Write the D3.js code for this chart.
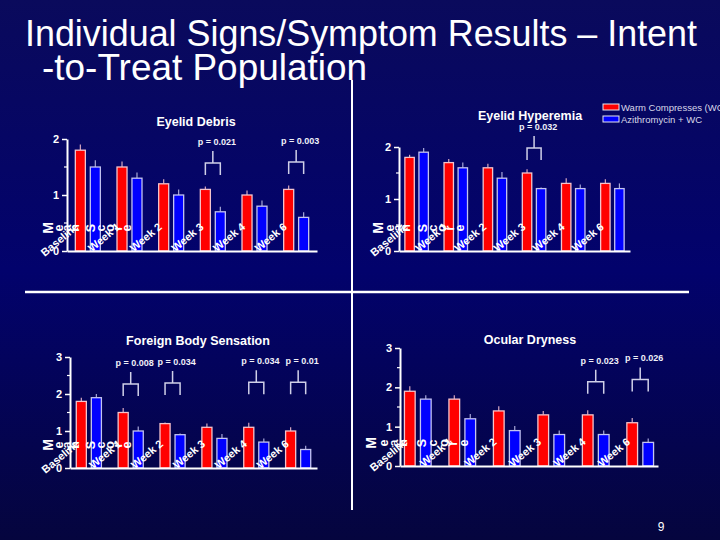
<!DOCTYPE html>
<html>
<head>
<meta charset="utf-8">
<script src="https://cdn.jsdelivr.net/npm/d3@7"></script>
<style>
  body { margin: 0; background: #06065a; }
  svg { display: block; font-family: "Liberation Sans", Arial, sans-serif; }
</style>
</head>
<body>
<div id="chart"></div>
<script>
// Dados
const timepoints = ['Baseline', 'Week 1', 'Week 2', 'Week 3', 'Week 4', 'Week 6'];
const seriesNames = ['Warm Compresses (WC)', 'Azithromycin + WC'];
const yLabel = 'Mean Score';

const debrisWC = [1.8, 1.5, 1.2, 1.1, 1.0, 1.1];
const debrisAzi = [1.5, 1.3, 1.0, 0.7, 0.8, 0.6];
const debrisErrWC = [0.1, 0.1, 0.08, 0.05, 0.08, 0.07];
const debrisErrAzi = [0.12, 0.1, 0.1, 0.09, 0.1, 0.09];
const debrisP = [{week: 'Week 3', p: 'p = 0.021', level: 1.57}, {week: 'Week 6', p: 'p = 0.003', level: 1.59}];

const hyperemiaWC = [1.8, 1.7, 1.6, 1.5, 1.3, 1.3];
const hyperemiaAzi = [1.9, 1.6, 1.4, 1.2, 1.2, 1.2];
const hyperemiaErrWC = [0.05, 0.07, 0.08, 0.07, 0.1, 0.08];
const hyperemiaErrAzi = [0.08, 0.1, 0.12, 0.02, 0.08, 0.1];
const hyperemiaP = [{week: 'Week 3', p: 'p = 0.032', level: 1.98}];

const foreignWC = [1.8, 1.5, 1.2, 1.1, 1.1, 1.0];
const foreignAzi = [1.9, 1.0, 0.9, 0.8, 0.7, 0.5];
const foreignErrWC = [0.1, 0.12, 0.03, 0.1, 0.12, 0.1];
const foreignErrAzi = [0.1, 0.12, 0.03, 0.12, 0.1, 0.1];
const foreignP = [
  {week: 'Week 1', p: 'p = 0.008', level: 2.27},
  {week: 'Week 2', p: 'p = 0.034', level: 2.3},
  {week: 'Week 4', p: 'p = 0.034', level: 2.32},
  {week: 'Week 6', p: 'p = 0.01', level: 2.32}
];

const drynessWC = [1.9, 1.7, 1.4, 1.3, 1.3, 1.1];
const drynessAzi = [1.7, 1.2, 0.9, 0.8, 0.8, 0.6];
const drynessErrWC = [0.13, 0.1, 0.12, 0.1, 0.12, 0.12];
const drynessErrAzi = [0.1, 0.12, 0.12, 0.1, 0.1, 0.1];
const drynessP = [{week: 'Week 4', p: 'p = 0.023', level: 2.14}, {week: 'Week 6', p: 'p = 0.026', level: 2.2}];

const ticks2 = [0, 1, 2];
const ticks3 = [0, 1, 2, 3];

const width = 720, height = 540;

const svg = d3.select('#chart').append('svg')
  .attr('width', width)
  .attr('height', height);

// Fundo
const grad = svg.append('defs').append('linearGradient')
  .attr('id', 'bg').attr('x1', 0).attr('y1', 0).attr('x2', 0).attr('y2', 1);
grad.append('stop').attr('offset', '0%').attr('stop-color', '#0a0a5c');
grad.append('stop').attr('offset', '50%').attr('stop-color', '#02026c');
grad.append('stop').attr('offset', '100%').attr('stop-color', '#05053e');
svg.append('rect').attr('width', width).attr('height', height).attr('fill', 'url(#bg)');

// Título
const titleFont = '"Liberation Sans Narrow", "Liberation Sans", Arial, sans-serif';
svg.append('text')
  .attr('x', 25).attr('y', 46)
  .attr('textLength', 672).attr('lengthAdjust', 'spacingAndGlyphs')
  .style('font-family', titleFont)
  .style('font-size', '36px').style('fill', '#fff')
  .text('Individual Signs/Symptom Results \u2013 Intent');
svg.append('text')
  .attr('x', 42).attr('y', 80)
  .attr('textLength', 325).attr('lengthAdjust', 'spacingAndGlyphs')
  .style('font-family', titleFont)
  .style('font-size', '36px').style('fill', '#fff')
  .text('-to-Treat Population');

// Linhas divisórias
svg.append('line').attr('x1', 25).attr('x2', 689).attr('y1', 292).attr('y2', 292)
  .attr('stroke', '#fff').attr('stroke-width', 2.5);
svg.append('line').attr('x1', 352).attr('x2', 352).attr('y1', 80).attr('y2', 510)
  .attr('stroke', '#fff').attr('stroke-width', 2);

function drawPanel(cfg) {
  const g = svg.append('g');

  const y = d3.scaleLinear().domain([0, cfg.yMax]).range([cfg.y0, cfg.yTop]);
  const x = d3.scaleBand().domain(timepoints).range([cfg.x0, cfg.x1])
    .paddingInner(0.4).paddingOuter(cfg.outer);
  const xs = d3.scaleBand().domain([0, 1]).range([0, x.bandwidth()]).paddingInner(0.33);

  // Título do painel
  g.append('text')
    .attr('x', cfg.titleX).attr('y', cfg.titleY)
    .attr('text-anchor', 'middle')
    .style('font-size', '12.5px').style('font-weight', 'bold').style('fill', '#fff')
    .text(cfg.title);

  // Barras
  const rows = timepoints.map((t, i) => ({t, i, vals: [cfg.wc[i], cfg.azi[i]], errs: [cfg.errWC[i], cfg.errAzi[i]]}));
  const fills = ['#ff0000', '#0000ff'];
  const strokes = ['#f4c4cc', '#c4c4f0'];
  const errCol = ['#d8a8c0', '#a8a8d8'];

  const grp = g.selectAll('.grp').data(rows).enter().append('g')
    .attr('transform', d => `translate(${x(d.t)},0)`);

  grp.selectAll('.err').data(d => d.vals.map((v, k) => ({v, k, e: d.errs[k]}))).enter()
    .append('line')
    .attr('x1', d => xs(d.k) + xs.bandwidth() / 2)
    .attr('x2', d => xs(d.k) + xs.bandwidth() / 2)
    .attr('y1', d => y(d.v))
    .attr('y2', d => y(d.v + d.e))
    .attr('stroke', d => errCol[d.k]).attr('stroke-width', 1.2);

  grp.selectAll('.bar').data(d => d.vals.map((v, k) => ({v, k}))).enter()
    .append('rect')
    .attr('x', d => xs(d.k))
    .attr('y', d => y(d.v))
    .attr('width', xs.bandwidth())
    .attr('height', d => y(0) - y(d.v))
    .attr('fill', d => fills[d.k])
    .attr('stroke', d => strokes[d.k]).attr('stroke-width', 1.3);

  // Eixo Y
  const yAxis = g.append('g')
    .attr('transform', `translate(${cfg.x0},0)`)
    .call(d3.axisLeft(y).tickValues(cfg.ticks).tickFormat(d3.format('d')).tickSize(5).tickSizeOuter(0).tickPadding(3));
  yAxis.select('.domain').attr('stroke', '#fff').attr('stroke-width', 2);
  yAxis.selectAll('line').attr('stroke', '#fff').attr('stroke-width', 1.5);
  yAxis.selectAll('text').style('fill', '#fff').style('font-size', '11px').style('font-weight', 'bold')
    .style('font-family', '"Liberation Sans", Arial, sans-serif');
  // ticks menores
  const minor = d3.range(0.5, cfg.yMax, 1);
  g.selectAll('.minor').data(minor).enter().append('line')
    .attr('x1', cfg.x0 - 3).attr('x2', cfg.x0)
    .attr('y1', d => y(d)).attr('y2', d => y(d))
    .attr('stroke', '#fff').attr('stroke-width', 1.2);

  // Eixo X
  const xAxis = g.append('g')
    .attr('transform', `translate(0,${cfg.y0})`)
    .call(d3.axisBottom(x).tickSize(0).tickSizeOuter(0));
  xAxis.select('.domain').attr('stroke', '#fff').attr('stroke-width', 2);
  xAxis.selectAll('text')
    .attr('y', 0).attr('dy', 0)
    .attr('transform', `translate(${-x.bandwidth() / 2 + 4},-23) rotate(-40)`)
    .style('text-anchor', 'end')
    .style('fill', '#fff').style('font-size', '11px').style('font-weight', 'bold')
    .style('font-family', '"Liberation Sans", Arial, sans-serif');

  // Rótulo "Mean Score": cada letra rodada, dispostas na horizontal como no original
  const letterX = [0, 11, 19, 27, 35, 43, 53, 62, 70, 79];
  g.selectAll('.ylab').data(yLabel.split('')).enter().append('text')
    .attr('transform', (c, i) => `translate(${cfg.labelX + letterX[i] * cfg.labelSpread},${cfg.y0 - 23}) rotate(-90)`)
    .attr('text-anchor', 'middle')
    .attr('dy', '0.35em')
    .style('font-size', (c, i) => i === 0 ? '14px' : '12.5px')
    .style('font-weight', 'bold').style('fill', '#fff')
    .text(c => c);

  // Anotações de p-valor
  const stem = 12, leg = 12;
  cfg.pvals.forEach(a => {
    const cx0 = x(a.week) + xs(0) + xs.bandwidth() / 2;
    const cx1 = x(a.week) + xs(1) + xs.bandwidth() / 2;
    const yl = y(a.level);
    g.append('path')
      .attr('d', `M${cx0},${yl + leg}V${yl}H${cx1}V${yl + leg}M${(cx0 + cx1) / 2},${yl}V${yl - stem}`)
      .attr('fill', 'none').attr('stroke', '#d0d0e8').attr('stroke-width', 1.5);
    g.append('text')
      .attr('x', (cx0 + cx1) / 2 + 4).attr('y', yl - stem - 6)
      .attr('text-anchor', 'middle')
      .style('font-size', '9px').style('font-weight', 'bold').style('fill', '#f0f0f8')
      .text(a.p);
  });
}

drawPanel({title: 'Eyelid Debris', titleX: 196, titleY: 126, wc: debrisWC, azi: debrisAzi,
  errWC: debrisErrWC, errAzi: debrisErrAzi, pvals: debrisP, yMax: 2, ticks: ticks2,
  x0: 67, x1: 317, outer: 0.2, y0: 251, yTop: 139, labelX: 48, labelSpread: 1});
drawPanel({title: 'Eyelid Hyperemia', titleX: 530, titleY: 120, wc: hyperemiaWC, azi: hyperemiaAzi,
  errWC: hyperemiaErrWC, errAzi: hyperemiaErrAzi, pvals: hyperemiaP, yMax: 2, ticks: ticks2,
  x0: 399, x1: 630, outer: 0.15, y0: 251, yTop: 147, labelX: 378, labelSpread: 1.03});
drawPanel({title: 'Foreign Body Sensation', titleX: 198, titleY: 345, wc: foreignWC, azi: foreignAzi,
  errWC: foreignErrWC, errAzi: foreignErrAzi, pvals: foreignP, yMax: 3, ticks: ticks3,
  x0: 70, x1: 317, outer: 0.15, y0: 468, yTop: 357, labelX: 48, labelSpread: 1});
drawPanel({title: 'Ocular Dryness', titleX: 530, titleY: 344, wc: drynessWC, azi: drynessAzi,
  errWC: drynessErrWC, errAzi: drynessErrAzi, pvals: drynessP, yMax: 3, ticks: ticks3,
  x0: 400, x1: 658, outer: 0.1, y0: 466, yTop: 348, labelX: 371, labelSpread: 1.17});

// Legenda
const legend = svg.append('g').attr('transform', 'translate(603,104)');
const legFills = ['#ff0000', '#0000ff'];
seriesNames.forEach((name, i) => {
  legend.append('rect').attr('x', 0).attr('y', i * 12).attr('width', 16).attr('height', 6)
    .attr('fill', legFills[i]).attr('stroke', '#e8e8f0').attr('stroke-width', 1);
  legend.append('text').attr('x', 18).attr('y', i * 12 + 7)
    .style('font-size', '9.5px').style('fill', '#d8d8e8')
    .text(name);
});

// Número da página
svg.append('text').attr('x', 661).attr('y', 531).attr('text-anchor', 'middle')
  .style('font-size', '12px').style('fill', '#fff').text('9');
</script>
</body>
</html>
